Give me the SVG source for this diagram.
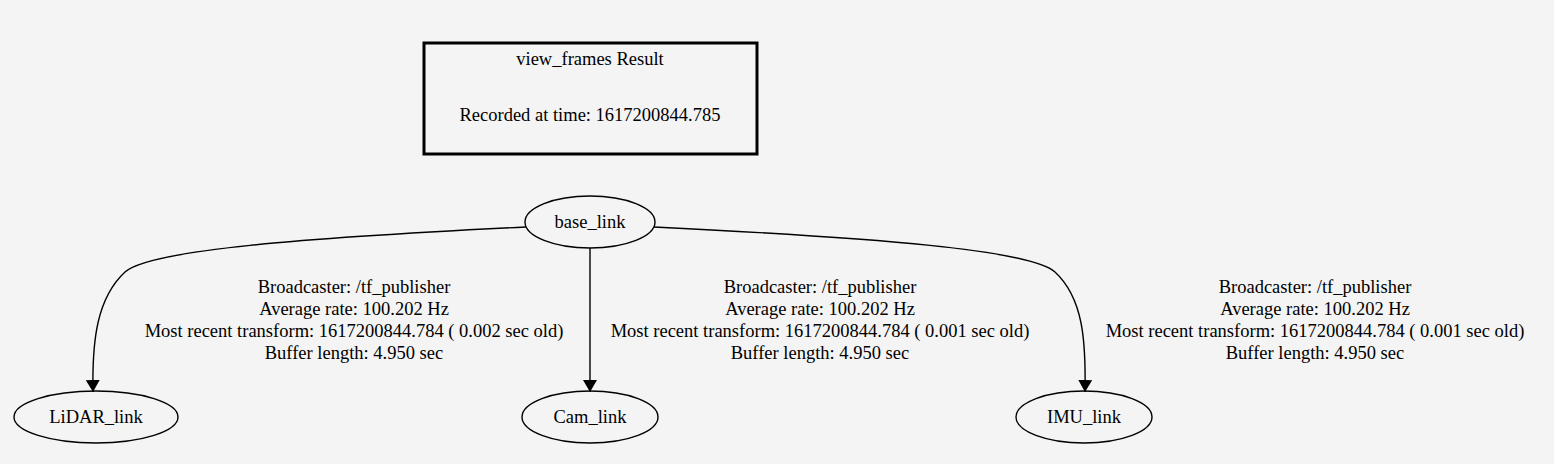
<svg xmlns="http://www.w3.org/2000/svg" width="1554" height="464" viewBox="0 0 1554 464" font-family="'Liberation Serif','Times New Roman','DejaVu Serif',serif">
<style>
text{font-family:'Liberation Serif','Times New Roman','DejaVu Serif',serif;font-size:18.5px;fill:#000;text-anchor:middle}
.n{fill:none;stroke:#000;stroke-width:1.4}
.e{fill:none;stroke:#000;stroke-width:1.4}
</style>
<defs>
<marker id="ah" markerWidth="12" markerHeight="14" refX="12" refY="7" orient="auto" markerUnits="userSpaceOnUse"><path d="M0,0 L12,7 L0,14 z" fill="#000"/></marker></defs>
<rect width="1554" height="464" fill="#f4f4f4"/>
<g id="legend"><rect x="424" y="43" width="333" height="111" fill="none" stroke="#000" stroke-width="3"/>
<text x="590" y="65">view_frames Result</text><text x="590" y="121">Recorded at time: 1617200844.785</text></g>
<g id="connectors">
<path class="e" marker-end="url(#ah)" d="M526,227 C300,238 150,250 125,272 C97,298 92,340 93,392"/>
<path class="e" marker-end="url(#ah)" d="M590,248 L590,392"/>
<path class="e" marker-end="url(#ah)" d="M654,227 C880,238 1030,250 1055,272 C1083,298 1086,340 1085,392"/>
<g><text x="354" y="293">Broadcaster: /tf_publisher</text><text x="354" y="315">Average rate: 100.202 Hz</text><text x="354" y="337">Most recent transform: 1617200844.784 ( 0.002 sec old)</text><text x="354" y="359">Buffer length: 4.950 sec</text></g>
<g><text x="820" y="293">Broadcaster: /tf_publisher</text><text x="820" y="315">Average rate: 100.202 Hz</text><text x="820" y="337">Most recent transform: 1617200844.784 ( 0.001 sec old)</text><text x="820" y="359">Buffer length: 4.950 sec</text></g>
<g><text x="1315" y="293">Broadcaster: /tf_publisher</text><text x="1315" y="315">Average rate: 100.202 Hz</text><text x="1315" y="337">Most recent transform: 1617200844.784 ( 0.001 sec old)</text><text x="1315" y="359">Buffer length: 4.950 sec</text></g>
</g>
<g id="base_link"><ellipse class="n" cx="590" cy="222" rx="65" ry="26"/><text x="590" y="228">base_link</text></g>
<g id="LiDAR_link"><ellipse class="n" cx="96" cy="417" rx="82" ry="26"/><text x="96" y="423">LiDAR_link</text></g>
<g id="Cam_link"><ellipse class="n" cx="590" cy="417" rx="68" ry="26"/><text x="590" y="423">Cam_link</text></g>
<g id="IMU_link"><ellipse class="n" cx="1084" cy="417" rx="68" ry="26"/><text x="1084" y="423">IMU_link</text></g>
</svg>
